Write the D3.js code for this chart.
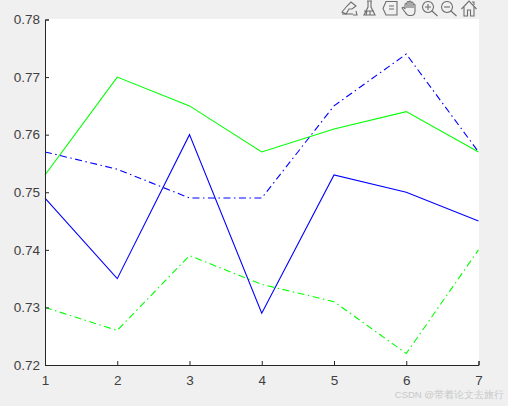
<!DOCTYPE html>
<html><head><meta charset="utf-8">
<script src="https://cdn.jsdelivr.net/npm/d3@7"></script>
<style>html,body{margin:0;padding:0;background:#f0f0f0;overflow:hidden}svg{display:block}
text{font-family:"Liberation Sans",Arial,sans-serif}</style></head><body>
<svg id="c" width="508" height="406"></svg>
<script>
const xValues=[1,2,3,4,5,6,7];
const yTicks=[0.72,0.73,0.74,0.75,0.76,0.77,0.78];
const blueSolid=[0.749,0.735,0.760,0.729,0.753,0.750,0.745];
const blueDash=[0.757,0.754,0.749,0.749,0.765,0.774,0.757];
const greenSolid=[0.753,0.770,0.765,0.757,0.761,0.764,0.757];
const greenDash=[0.730,0.726,0.739,0.734,0.731,0.722,0.740];
const watermark="CSDN @带着论文去旅行";

const L=45,R=478.5,T=19.5,B=365;
const svg=d3.select("#c");
const x=d3.scaleLinear().domain([1,7]).range([L,R]);
const y=d3.scaleLinear().domain([0.72,0.78]).range([B,T]);
svg.append("rect").attr("x",L).attr("y",T-0.5).attr("width",R-L+0.5).attr("height",B-T+0.5).attr("fill","#fff");

const line=d3.line().x((d,i)=>x(xValues[i])).y(d=>y(d));
const dd="7 3.5 1.5 3.5";
[[greenDash,"#00ff00",dd],[blueSolid,"#0000ff",null],[greenSolid,"#00ff00",null],[blueDash,"#0000ff",dd]].forEach(([v,c,a])=>{
  svg.append("path").attr("d",line(v)).attr("fill","none").attr("stroke",c).attr("stroke-width",1.1)
    .attr("stroke-dasharray",a);
});

const ax=svg.append("g").attr("transform",`translate(0,${B})`).call(d3.axisBottom(x).tickValues(xValues).tickFormat(d3.format("d")).tickSize(-4).tickPadding(10));
const ay=svg.append("g").attr("transform",`translate(${L},0)`).call(d3.axisLeft(y).tickValues(yTicks).tickFormat(d3.format(".2f")).tickSize(-4).tickPadding(5));
[ax,ay].forEach(g=>{
  g.select(".domain").attr("stroke","#262626").attr("stroke-width",1);
  g.selectAll(".tick line").attr("stroke","#262626").attr("stroke-width",1);
  g.selectAll("text").attr("fill","#404040").attr("font-size",13.5).attr("font-family",'"Liberation Sans",Arial,sans-serif');
});

svg.append("text").attr("x",504).attr("y",398).attr("text-anchor","end").attr("font-size",9.5)
  .attr("fill","#c8c8c8").attr("font-family",'"Liberation Sans","Noto Sans CJK SC",sans-serif').text(watermark);

// figure toolbar icons
const tb=svg.append("g").attr("fill","none").attr("stroke","#6e6e6e").attr("stroke-width",1.1);
const icon=(tx,parts)=>{const g=tb.append("g").attr("transform",`translate(${tx},0)`);parts.forEach(p=>g.append("path").attr("d",p));};
icon(341,["M1 12 L6 6 L10 2 L15 6 L11 9 L8 9 L5 14 Z","M1 14 H12","M15 11 L16 15 H12"]);
icon(362,["M5 1 H10 M6 1 V7 L2 15 H13 L9 7 V1","M2 11 H12 M5 11 L4 15 M8 11 L8 15"]);
icon(382,["M4 1.5 H15 V15 H4 L1 8.5 Z","M7 6 H12 M7 9 H12"]);
icon(401,["M4 9 V4.5 a1 1 0 0 1 2 0 V8 V2.5 a1 1 0 0 1 2 0 V8 V2 a1 1 0 0 1 2 0 V8 V3 a1 1 0 0 1 2 0 V8 V5 a1 1 0 0 1 2 0 V11 Q14 15.5 10 15.5 H8 Q6 15.5 4 12 L1 8 Q2 6 4 9"]);
icon(422,["M6 1.5 a5.5 5.5 0 1 0 0.01 0","M10 11 L15.5 16","M3 7 H9 M6 4 V10"]);
icon(441,["M6 1.5 a5.5 5.5 0 1 0 0.01 0","M10 11 L15.5 16","M3 7 H9"]);
icon(461,["M0.5 9 L8 1 L15.5 9","M3 7 V16 H6.5 V10 H9.5 V16 H13 V7","M11 2 H13 V5"]);
</script></body></html>
